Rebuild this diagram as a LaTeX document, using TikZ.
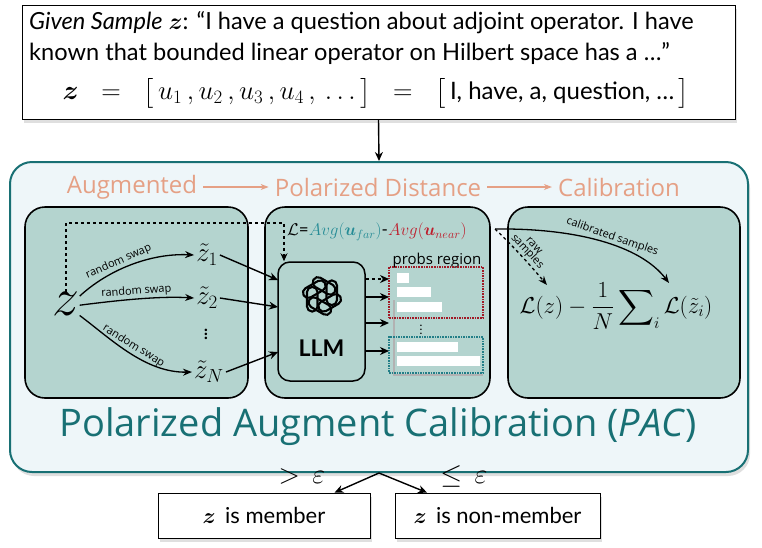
\RequirePackage{fix-cm}
\documentclass[tikz,border=0pt]{standalone}
\usepackage{amsmath,bm}
\usepackage{fontspec}
\setmainfont{Lato}
\newfontfamily\headfont{Open Sans}
\usetikzlibrary{arrows.meta,shadows}
\definecolor{pacteal}{RGB}{24,112,116}
\definecolor{pacback}{RGB}{238,246,249}
\definecolor{panelfill}{RGB}{180,212,207}
\definecolor{salmon}{RGB}{229,160,133}
\definecolor{farcol}{RGB}{38,140,150}
\definecolor{nearcol}{RGB}{190,30,45}
\begin{document}
\begin{tikzpicture}[x=1pt,y=-1pt,
    outbox/.style ={draw, line width=0.8pt, fill=white, inner sep=0pt,
      drop shadow={opacity=0.25, shadow xshift=2pt, shadow yshift=-4pt}},
    panel/.style ={draw, line width=1.6pt, rounded corners=20pt, fill=panelfill,
      minimum height=191pt, inner sep=0pt},
    header/.style ={text=salmon, font=\headfont\fontsize{24}{26}\selectfont, inner xsep=6pt},
    swap/.style ={-{Stealth[length=9pt,width=7pt]}, line width=1.3pt},
    feed/.style ={-{Stealth[length=9pt,width=8pt]}, line width=1.4pt},
    tiny/.style ={font=\headfont\fontsize{11}{11}\selectfont, inner sep=1.5pt}]
   \useasboundingbox (0,0) rectangle (762,547);

   % given sample
   \node[outbox, minimum width=713pt, minimum height=114pt] (sample) at (378.5,62) {};
   \node[anchor=west, font=\fontsize{23.6}{26}\selectfont, inner sep=0pt] (line1) at (29,23)
     {\textit{Given Sample} $\bm{z}$: “I have a question about adjoint operator. I have};
   \node[anchor=west, font=\fontsize{23.6}{26}\selectfont, inner sep=0pt] (line2) at (29,53)
     {known that bounded linear operator on Hilbert space has a …”};
   \node[font=\fontsize{27}{30}\selectfont, inner sep=0pt] (line3) at (376,93)
     {$\bm{z}\;\;=\;\;\bigl[\,u_1\,,u_2\,,u_3\,,u_4\,,\,\dots\,\bigr]\;\;=\;\;\bigl[\,${\fontsize{24}{26}\selectfont I, have, a, question, …}$\,\bigr]$};

   % PAC box
   \node[draw=pacteal, line width=2pt, fill=pacback, rounded corners=22pt,
     minimum width=738pt, minimum height=310pt,
     drop shadow={opacity=0.25, shadow xshift=2pt, shadow yshift=-4pt}] (pac) at (379,317) {};
   \draw[feed] (sample.south) to (pac.north);

   \node[header] (hdA) at (132,187) {Augmented};
   \node[header] (hdB) at (378,187) {Polarized Distance};
   \node[header] (hdC) at (619,187) {Calibration};
   \draw[salmon, line width=1.2pt, -{Stealth[length=8pt]}] (hdA) to (hdB);
   \draw[salmon, line width=1.2pt, -{Stealth[length=8pt]}] (hdB) to (hdC);

   \node[panel, minimum width=223pt] (augment) at (136.5,302.5) {};
   \node[panel, minimum width=225pt] (polar) at (377.5,302.5) {};
   \node[panel, minimum width=232pt] (calib) at (624,302.5) {};

   \node[text=pacteal, font=\headfont\fontsize{38}{40}\selectfont] (title) at (378,427)
     {Polarized Augment Calibration (\textit{PAC})};

   % augmented samples
   \node[font=\fontsize{54}{58}\selectfont, inner sep=0pt] (z0) at (66,304) {$z$};
   \node[font=\fontsize{27}{30}\selectfont, inner sep=2pt] (zt1) at (207,255) {$\tilde{z}_1$};
   \node[font=\fontsize{27}{30}\selectfont, inner sep=2pt] (zt2) at (207,298) {$\tilde{z}_2$};
   \node[font=\fontsize{20}{24}\selectfont] (zdots) at (206,331) {$\vdots$};
   \node[font=\fontsize{27}{30}\selectfont, inner sep=2pt] (ztN) at (209,372) {$\tilde{z}_N$};

   \draw[swap] (z0.30) .. controls (108,270) and (150,253) .. (zt1.west)
     node[tiny, sloped, above, pos=0.42] {random swap};
   \draw[swap] (z0.-5) .. controls (120,300) and (160,296) .. (zt2.west)
     node[tiny, sloped, above, pos=0.48] {random swap};
   \draw[swap] (z0.-40) .. controls (110,338) and (145,373) .. (ztN.west)
     node[tiny, sloped, above, pos=0.5] {random swap};

   % polarized distance
   \node[draw, line width=1.5pt, rounded corners=12pt, fill=panelfill,
     minimum width=87pt, minimum height=119pt] (llm) at (321.5,321.5) {};
   \node[font=\fontsize{23}{26}\selectfont\bfseries, inner sep=0pt] (llmtext) at (321.5,348) {LLM};
   \coordinate (logo) at (322,296);
   \foreach \a in {0,60,...,300}
     \draw[line width=2.1pt, rounded corners=5pt, shift={(logo)}, rotate=\a] (4.5,-15.5) rectangle (15,9);

   \node[anchor=west, font=\fontsize{17}{18}\selectfont, inner sep=0pt] (loss) at (287,232)
     {$\mathcal{L}$=\textcolor{farcol}{$Avg(\bm{u}_{far})$}-\textcolor{nearcol}{$Avg(\bm{u}_{near})$}};
   \coordinate (kink) at (284,223);
   \draw[dashed, line width=1.4pt, -{Stealth[length=8pt,width=7pt]}] (z0.north) |- (kink) to (kink |- llm.north);

   \coordinate (in1) at (278,280);
   \coordinate (in2) at (278,307);
   \coordinate (inN) at (278,352);
   \draw[feed] (zt1.east) to (in1);
   \draw[feed] (zt2.east) to (in2);
   \draw[feed] (ztN.east) to (inN);

   \node[font=\headfont\fontsize{15}{16}\selectfont, inner sep=0pt] (probs) at (437,261) {probs region};
   \draw[gray!60, line width=1.6pt] (394,300) |- (483,375);
   \foreach \ya/\xb in {273/409, 287/431, 302/442, 342/458, 356/480}
     \fill[white] (397,\ya) rectangle (\xb,\ya+10);
   \node[draw=nearcol!85!black, densely dotted, line width=1.6pt, inner sep=0pt,
     minimum width=94pt, minimum height=51pt] (nearreg) at (436,292.5) {};
   \node[draw=farcol!90!black, densely dotted, line width=1.6pt, inner sep=0pt,
     minimum width=94pt, minimum height=36pt] (farreg) at (436,355) {};
   \node[font=\fontsize{12}{12}\selectfont] (rdots) at (421,327) {$\vdots$};

   \coordinate (out1) at (389,279);
   \coordinate (out2) at (389,297);
   \coordinate (out3) at (389,323);
   \coordinate (out4) at (389,351);
   \draw[feed, dashed] (llm.east |- out1) to (out1);
   \draw[feed] (llm.east |- out2) to (out2);
   \draw[feed] (llm.east |- out3) to (out3);
   \draw[feed] (llm.east |- out4) to (out4);

   % calibration
   \node[font=\fontsize{23}{26}\selectfont] (score) at (616,306)
     {$\mathcal{L}(z)-\dfrac{1}{N}\displaystyle\sum\nolimits_i\mathcal{L}(\tilde{z}_i)$};
   \coordinate (sc) at (495,229);
   \coordinate (calend) at (669,283);
   \coordinate (rawend) at (547,285);
   \draw[line width=1.3pt, -{Stealth[length=9pt,width=7pt]}] (sc) .. controls (575,228) and (640,245) .. (calend)
     node[tiny, sloped, above, pos=0.55] {calibrated samples};
   \draw[dashed, line width=1.3pt, -{Stealth[length=9pt,width=7pt]}] (sc) .. controls (515,248) and (530,265) .. (rawend)
     node[tiny, sloped, above, align=center, pos=0.5, inner sep=1pt] {raw\\[-2pt]samples};

   % decision
   \node[outbox, minimum width=212pt, minimum height=45pt, font=\fontsize{22}{24}\selectfont] (mem) at (264,515.5)
     {$\bm{z}$\, is member};
   \node[outbox, minimum width=205pt, minimum height=45pt, font=\fontsize{22}{24}\selectfont] (nonmem) at (497.5,515.5)
     {$\bm{z}$\, is non-member};
   \draw[feed] (pac.south) to (mem.18);
   \draw[feed] (pac.south) to (nonmem.162);
   \node[font=\fontsize{28}{30}\selectfont] (gt) at (302,476) {$>\,\varepsilon$};
   \node[font=\fontsize{28}{30}\selectfont] (le) at (464,476) {$\leq\,\varepsilon$};
 \end{tikzpicture}
\end{document}
